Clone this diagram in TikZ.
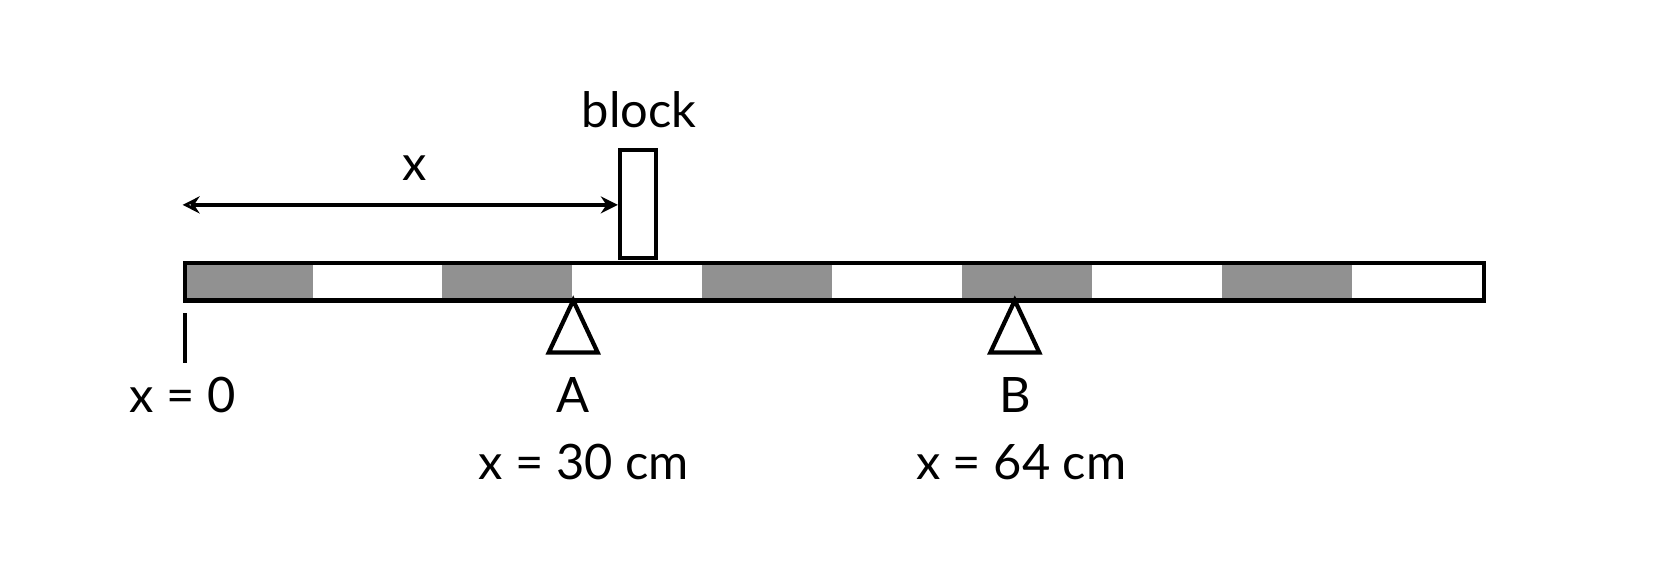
\documentclass[tikz,border=0pt]{standalone}
\usepackage{fontspec}
\setmainfont{Lato}
\usetikzlibrary{arrows.meta}
\begin{document}
\begin{tikzpicture}[x=0.5pt,y=-0.5pt,
  lbl/.style={font=\fontsize{23}{26}\selectfont, inner sep=0pt},
  thick2/.style={line width=2pt},
  support/.style={draw, line width=2pt, fill=white, line join=miter}]
\useasboundingbox (0,0) rectangle (1560,543);
\definecolor{seg}{HTML}{919191}
\foreach \i in {0,2,4,6,8}
  \fill[seg] ({172+122.4*\i},246) rectangle ({172+122.4*(\i+1)},281);
\node[draw, thick2, minimum width=612pt, minimum height=17.5pt, inner sep=0pt, anchor=north west] (bar) at (172,246) {};
\node[draw, thick2, fill=white, minimum width=17pt, minimum height=51pt, inner sep=0pt, anchor=south west] (block) at (582,245) {};
\node[lbl] (blocklbl) at (602,103) {block};
\coordinate (zero) at (172,193);
\draw[line width=1.6pt, {Stealth[length=8pt,width=8pt,open]}-{Stealth[length=8pt,width=8pt]}] (zero) -- (block.west |- zero);
\node[lbl] (xlbl) at (391,158) {x};
\draw[support] (540,283) -- (517,332) -- (563,332) -- cycle;
\draw[support] (956,283) -- (933,332) -- (979,332) -- cycle;
\coordinate (t1) at (174,295); \coordinate (t2) at (174,342);
\draw[thick2] (t1) -- (t2);
\node[lbl] (x0) at (172,372) {x = 0};
\node[lbl] (A) at (540,372) {A};
\node[lbl] (B) at (956,372) {B};
\node[lbl] (xa) at (550,435) {x = 30 cm};
\node[lbl] (xb) at (962,435) {x = 64 cm};
\end{tikzpicture}
\end{document}
